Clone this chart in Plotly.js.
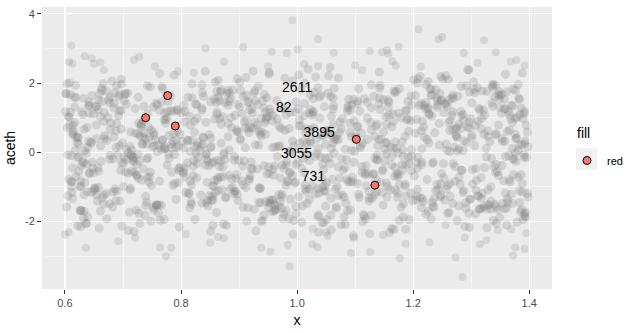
<!DOCTYPE html>
<html>
<head>
<meta charset="utf-8">
<script src="https://cdn.plot.ly/plotly-3.0.1.min.js"></script>
<style>html,body{margin:0;padding:0;background:#fff;}#plot{width:637px;height:333px;}</style>
</head>
<body>
<div id="plot"></div>
<script>
// background cloud, batch 1 (estimated)
const bgX = [
0.623,1.174,0.881,1.342,0.715,1.053,0.934,1.287,0.662,1.128,0.794,1.391,0.983,0.741,1.216,0.857,1.031,0.608,1.314,0.902,
1.095,0.684,1.257,0.823,1.372,0.961,0.736,1.148,0.872,1.014,0.645,1.226,0.778,1.335,0.927,1.071,0.693,1.182,0.816,1.364,
0.953,1.273,0.637,1.104,0.845,1.301,0.752,1.026,1.193,0.671,0.894,1.383,0.724,1.157,0.975,1.245,0.806,1.062,0.654,1.326,
0.867,1.117,0.703,1.354,0.992,1.208,0.763,1.043,0.604,1.296,0.915,1.163,0.832,1.398,0.747,1.086,0.946,1.234,0.668,1.137,
1.262,0.786,1.004,0.627,1.196,0.874,1.337,0.695,1.057,0.923,1.376,0.813,1.145,0.634,1.283,0.968,0.712,1.221,0.853,1.036,
0.731,1.318,0.905,1.077,0.646,1.253,0.838,1.169,0.988,0.759,1.387,0.617,1.112,0.941,1.264,0.802,1.048,0.685,1.345,0.896,
1.183,0.657,1.021,0.869,1.307,0.726,1.132,0.958,1.379,0.791,1.068,0.612,1.239,0.885,1.154,0.743,0.997,1.291,0.678,1.083,
0.825,1.369,0.936,1.202,0.663,1.016,0.774,1.328,1.109,0.851,1.247,0.638,0.971,1.175,0.718,1.394,0.909,1.058,0.797,1.276,
0.701,1.141,0.862,1.311,0.979,0.628,1.226,1.087,0.766,1.357,0.918,1.039,0.689,1.186,0.844,1.268,0.952,0.733,1.123,1.384,
0.613,1.236,0.807,1.098,0.944,1.349,0.757,1.008,1.171,0.651,1.297,0.873,1.064,0.721,1.212,0.986,0.829,1.331,0.674,1.153,
1.044,0.782,1.388,0.931,0.642,1.189,0.861,1.274,0.709,1.121,0.996,0.835,1.363,0.602,1.071,0.913,1.248,0.768,1.142,0.887,
1.323,0.696,1.011,1.205,0.819,1.359,0.633,0.964,1.092,0.749,1.286,0.898,1.168,0.727,1.038,0.658,1.252,0.943,1.397,0.801,
0.876,1.191,0.739,1.047,1.309,0.619,0.927,1.161,0.784,1.373,1.002,0.853,1.218,0.691,1.116,0.962,0.812,1.281,1.059,0.648,
1.353,0.921,0.667,1.134,0.838,1.242,1.073,0.753,1.392,0.609,0.981,1.197,0.864,1.029,0.715,1.318,0.937,1.102,0.779,1.259,
0.686,1.052,1.292,0.798,1.161,0.907,0.631,1.367,0.849,1.222,0.973,0.734,1.118,1.341,0.658,1.006,0.892,1.187,0.761,1.033,
1.279,0.817,1.099,0.943,0.704,1.382,1.147,0.622,0.998,1.231,0.857,1.306,0.742,1.067,0.916,1.197,0.677,1.356,0.829,1.124,
0.953,1.347,0.726,1.183,0.606,1.041,0.879,1.263,0.791,1.106,1.371,0.664,0.932,1.215,0.818,1.087,0.697,1.329,1.014,0.868,
1.151,0.641,1.299,0.911,1.064,0.772,1.385,0.839,1.206,0.987,0.616,1.137,0.754,1.272,0.901,1.049,1.343,0.683,1.176,0.806,
0.729,1.239,0.965,1.119,0.654,1.315,0.883,1.023,0.795,1.362,1.081,0.708,1.192,0.946,0.836,1.288,0.624,1.158,0.977,1.398,
1.013,0.863,1.227,0.671,1.349,0.921,1.105,0.766,1.268,0.611,1.042,0.958,1.337,0.742,1.166,0.889,1.219,0.647,1.074,0.815,
1.304,0.698,1.143,0.994,0.786,1.256,0.637,1.091,0.872,1.381,0.929,0.714,1.208,1.051,0.823,1.327,0.666,1.172,0.952,1.113,
0.843,1.366,0.605,1.027,1.284,0.759,1.149,0.907,1.353,0.688,1.078,0.856,1.241,0.628,1.003,1.391,0.775,1.196,0.934,1.061,
0.721,1.214,0.973,1.322,0.851,1.098,0.652,1.267,0.804,1.181,1.037,0.694,1.374,0.919,1.129,0.767,1.302,0.618,1.046,0.881,
1.388,0.949,1.163,0.735,1.017,1.277,0.827,1.113,0.643,1.346,0.899,1.233,0.706,1.069,0.968,1.311,0.784,1.154,0.633,1.224,
0.912,1.083,0.672,1.296,0.836,1.187,0.993,0.748,1.359,1.125,0.603,1.008,1.248,0.878,1.336,0.719,1.057,0.941,1.201,0.797,
1.139,0.627,1.028,0.866,1.317,0.739,1.179,0.959,1.094,0.682,1.372,0.846,1.261,1.016,0.773,1.168,0.905,1.342,0.656,1.282,
0.988,0.811,1.253,0.661,1.136,1.395,0.928,0.712,1.049,1.308,0.869,1.107,0.615,1.224,0.958,0.757,1.377,1.034,0.836,1.186,
0.678,1.269,1.045,0.897,1.357,0.746,1.151,0.639,1.213,0.982,0.823,1.329,1.062,0.704,1.176,0.917,1.291,0.862,1.011,0.731,
1.247,0.924,0.613,1.369,1.088,0.791,1.204,0.951,0.668,1.139,1.315,0.854,1.023,0.727,1.383,0.974,1.121,0.808,1.258,0.642,
0.901,1.193,0.763,1.059,1.338,0.636,0.979,1.231,0.842,1.097,0.697,1.361,0.933,1.159,0.788,1.276,1.019,0.659,1.207,0.873
];
const bgY = [
0.42,-1.17,1.36,-0.58,0.07,1.71,-1.45,0.93,-0.26,-1.82,0.61,1.12,-0.83,0.24,-1.34,1.54,-0.11,0.78,-1.63,0.35,
-0.72,1.28,-1.06,0.16,1.83,-0.39,0.55,-1.52,1.03,-0.94,0.29,-1.71,1.47,-0.18,0.87,-1.25,1.62,-0.51,0.02,1.19,
-1.38,0.68,-0.03,1.41,-0.87,0.49,-1.59,1.08,-0.32,1.77,-1.13,0.21,-0.66,1.31,-1.91,0.83,-0.45,1.57,-1.22,0.12,
0.97,-0.61,1.68,-1.48,0.33,-0.14,1.22,-1.01,0.71,-1.76,1.44,-0.36,0.06,-1.29,1.89,-0.79,0.52,-1.57,1.15,-0.22,
1.52,-0.95,0.26,-1.68,0.91,-0.07,1.33,-1.41,0.63,-0.49,1.79,-1.19,0.38,-0.88,1.06,-1.55,0.17,1.26,-0.31,-1.86,
0.74,-1.33,1.11,-0.19,1.64,-0.74,0.44,-1.09,0.01,1.37,-1.66,0.86,-0.41,1.49,-1.27,0.31,-0.97,1.72,-0.56,0.59,
-1.49,1.24,-0.24,0.81,-1.78,1.59,-0.63,0.14,1.02,-1.36,0.47,-0.85,1.81,-1.05,0.28,-0.16,1.17,-1.61,0.66,-0.44,
1.39,-1.21,0.53,-0.68,1.85,-0.09,0.94,-1.53,0.19,1.46,-0.91,0.72,-1.42,1.13,-0.27,-1.73,0.88,1.61,-0.53,0.04,
-0.99,0.37,1.76,-1.26,0.64,-0.38,1.29,-1.69,0.09,1.53,-0.76,0.99,-1.12,0.46,-0.05,1.66,-1.47,0.23,-0.62,1.09,
0.56,-1.58,1.18,-0.29,0.85,-1.89,1.42,-0.47,0.11,-1.03,1.74,-0.71,0.39,1.27,-1.31,0.69,-0.15,-1.51,1.01,0.27,
-0.34,1.63,-1.15,0.79,-0.59,1.21,-1.74,0.48,-0.02,1.45,-0.89,0.18,-1.44,1.69,-0.42,0.92,-1.24,0.36,1.86,-0.77,
1.07,-0.52,0.32,-1.37,1.58,-0.12,0.67,-1.64,1.23,-0.96,0.05,1.38,-0.69,0.84,-1.18,1.51,-0.33,-1.81,0.58,1.14,
-0.21,0.96,-1.54,1.32,-0.81,0.43,1.78,-1.08,0.14,-0.64,1.26,-1.39,0.73,-0.08,1.55,-1.67,0.34,-0.93,1.04,-0.46,
1.67,-0.28,0.89,-1.23,0.22,1.48,-0.75,0.57,-1.84,1.16,-0.37,0.08,-1.11,1.73,-0.54,0.98,-1.46,0.41,-0.17,1.34,
-1.06,0.63,1.92,-0.44,0.15,-1.59,1.09,-0.86,0.51,1.44,-1.28,0.25,-0.65,1.61,-1.02,0.77,-0.23,1.21,-1.75,0.38,
0.82,-1.43,0.03,1.28,-0.57,1.57,-1.16,0.45,-0.35,1.82,-0.98,0.19,1.11,-1.62,0.67,-0.11,1.43,-0.82,0.29,-1.32,
1.25,-0.67,0.54,-1.87,1.03,-0.13,1.69,-0.91,0.36,-1.21,0.86,1.47,-0.48,0.1,-1.5,1.19,-0.31,0.62,-1.06,1.75,
-0.25,1.36,-1.35,0.71,-0.03,1.13,-1.72,0.42,0.95,-0.6,1.59,-1.14,0.2,-0.84,1.31,-1.56,0.53,-0.19,1.84,-0.7,
0.47,-1.1,1.5,-0.39,0.79,-1.65,0.07,1.24,-0.88,0.6,-1.3,1.71,-0.14,0.93,-1.47,0.33,-0.55,1.08,-1.79,0.16,
1.41,-0.8,0.27,-1.19,1.63,-0.46,0.74,-1.53,1.17,-0.1,0.5,-1.37,1.88,-0.73,0.12,-1.02,1.35,-0.29,0.88,-1.6,
2.04,-2.13,1.93,-1.97,0.31,2.21,-2.05,0.84,-0.43,1.96,-2.27,-0.09,2.12,-1.94,0.58,-2.18,1.99,-0.62,2.31,-2.01,
-0.18,0.64,-1.26,1.14,-0.52,0.02,1.52,-0.94,0.39,-1.4,0.97,-0.27,1.3,-1.69,0.76,-0.07,1.65,-1.18,0.21,-0.78,
0.55,-0.36,1.27,-1.57,0.13,0.91,-1.04,1.58,-0.6,0.3,-1.81,1.2,-0.2,0.72,-1.33,1.46,-0.5,0.06,-1.12,1.78,
-0.9,1.03,-0.12,0.44,-1.48,1.62,-0.74,0.26,1.12,-1.66,0.59,-0.32,1.39,-1.0,0.17,1.87,-0.57,0.81,-1.23,0.37,
2.16,-2.08,-1.92,2.38,1.95,-2.22,2.07,-1.99,2.26,-2.35,1.98,-2.02,2.19,-2.11,1.94,-2.29,2.45,-1.96,2.09,-2.16,
0.19,-0.99,1.55,-0.41,0.68,-1.27,1.0,-0.66,0.45,-1.58,1.34,-0.24,0.86,-1.13,0.1,1.72,-0.83,0.52,-1.41,1.18,
-0.58,0.35,1.15,-1.7,0.75,-0.15,1.49,-1.09,0.23,-0.47,1.81,-1.31,0.62,-0.79,1.06,-1.52,0.4,-0.04,1.28,-0.92,
1.6,-0.33,0.47,-1.21,1.25,-0.7,0.09,-1.86,1.41,-0.26,0.9,-1.08,0.27,1.7,-0.64,0.57,-1.45,1.1,-0.17,0.8,
-1.29,0.7,-0.45,1.35,-0.86,0.14,1.64,-1.6,0.48,-0.22,1.22,-0.97,0.33,-1.76,1.53,-0.37,0.99,-1.16,0.06,1.44,
2.02,-1.95,2.28,-2.24,1.97,-2.06,2.14,-1.93,2.34,-2.41,2.11,-2.1,1.91,-2.32,2.23,-1.98,2.41,-2.19,2.0,-2.07
];
// background cloud, batch 2 (estimated)
const bgX2 = [
1.207,0.653,0.994,1.318,0.771,1.085,0.619,1.243,0.902,1.366,0.837,1.021,0.688,1.154,0.946,1.279,0.732,1.112,0.861,1.397,
0.645,1.176,0.913,1.334,0.798,1.049,0.607,1.262,0.969,0.724,1.128,0.883,1.371,0.675,1.003,1.219,0.816,1.305,0.937,1.094,
1.352,0.758,1.067,0.631,1.191,0.892,1.283,0.709,1.036,0.954,1.387,0.626,1.143,0.848,1.237,0.981,0.692,1.326,0.773,1.058,
0.919,1.255,0.667,1.101,0.826,1.348,0.745,1.017,1.179,0.601,0.958,1.294,0.871,1.132,0.717,1.376,0.998,0.639,1.211,0.804,
1.073,0.855,1.313,0.702,1.166,0.926,1.393,0.659,1.044,0.789,1.228,0.974,0.614,1.339,0.886,1.119,0.751,1.268,0.932,1.001,
0.683,1.347,0.842,1.089,0.723,1.257,0.966,1.381,0.617,1.138,0.898,1.024,0.768,1.302,0.851,1.187,0.649,1.079,0.987,1.232,
1.296,0.741,1.158,0.877,1.037,0.606,1.361,0.912,1.204,0.783,1.068,0.641,1.323,0.957,1.116,0.827,1.249,0.694,1.012,1.384,
0.811,1.021,0.633,1.276,0.943,1.147,0.706,1.359,0.867,1.092,0.749,1.225,0.988,0.624,1.173,0.903,1.308,0.779,1.055,0.661,
1.241,0.896,1.332,0.677,1.108,0.822,1.029,0.738,1.389,0.951,1.196,0.612,1.271,0.858,1.063,0.714,1.149,0.973,0.836,1.343,
0.763,1.134,0.602,1.287,0.928,1.046,0.805,1.217,0.689,1.372,0.981,0.753,1.121,0.864,1.317,0.634,1.078,0.917,1.259,0.697,
1.109,0.877,1.264,0.649,1.006,1.341,0.787,1.183,0.922,0.713,1.395,1.057,0.839,1.222,0.621,0.954,1.154,0.746,1.297,0.883,
0.998,1.368,0.729,1.141,0.863,1.279,0.609,1.032,1.214,0.796,0.947,1.328,0.672,1.097,0.818,1.245,0.966,1.386,0.741,1.163,
0.654,1.207,0.896,1.353,0.777,1.081,0.938,1.263,0.627,1.171,0.854,1.015,0.705,1.336,0.992,1.127,0.762,1.286,0.843,1.049,
1.378,0.812,1.156,0.661,1.233,0.979,0.719,1.307,0.891,1.064,0.637,1.192,0.957,0.828,1.391,0.685,1.104,0.869,1.254,0.923,
0.747,1.292,0.613,1.022,1.174,0.881,1.361,0.794,1.136,0.668,1.248,0.936,1.083,0.735,1.319,0.849,0.972,1.206,0.629,1.114,
1.189,0.906,1.349,0.758,1.047,0.678,1.269,0.984,0.817,1.383,1.153,0.642,0.926,1.236,0.771,1.094,0.868,1.322,0.603,1.011,
0.834,1.104,0.719,1.275,0.961,1.165,0.657,1.354,0.889,1.027,0.753,1.199,0.918,1.377,0.806,1.066,0.688,1.231,0.948,1.301,
1.016,1.259,0.776,0.632,1.142,0.859,1.392,0.971,1.088,0.726,1.216,0.843,1.329,0.664,1.051,0.911,1.173,0.788,1.283,0.614,
1.365,0.697,1.124,0.939,0.821,1.246,0.611,1.071,0.893,1.334,0.761,1.181,0.998,0.646,1.297,0.874,1.038,0.732,1.358,0.961,
0.702,1.148,0.852,1.313,1.004,0.677,1.229,0.915,1.376,0.789,1.087,0.624,1.268,0.946,0.815,1.131,0.739,1.394,1.062,0.868,
1.222,0.632,1.032,0.881,1.343,0.767,1.176,0.952,0.701,1.289,0.859,1.118,0.618,1.037,1.251,0.796,1.389,0.924,1.076,0.689,
0.943,1.312,0.814,1.198,0.658,1.059,0.907,1.362,0.744,1.134,0.988,0.611,1.274,0.846,1.167,0.723,1.023,1.334,0.876,1.215,
0.679,1.084,1.381,0.793,1.241,0.934,0.626,1.157,0.863,1.299,1.013,0.736,1.206,0.971,0.821,1.347,0.652,1.111,0.895,1.267,
1.036,0.756,1.327,0.619,1.182,0.958,1.392,0.828,1.062,0.711,1.256,0.892,1.128,0.639,1.349,0.977,0.784,1.214,0.938,1.096,
0.864,1.379,0.697,1.163,1.003,0.771,1.283,0.622,1.071,0.913,1.226,0.851,1.342,0.729,1.142,0.986,0.608,1.297,0.819,1.043,
1.169,0.917,1.301,0.664,1.091,0.779,1.366,1.009,0.843,1.235,0.694,1.124,0.963,1.386,0.752,1.058,0.887,1.272,0.632,1.186,
0.726,1.232,0.899,1.058,1.357,0.641,1.144,0.805,1.306,0.969,0.684,1.197,0.858,1.371,1.028,0.717,1.263,0.934,1.106,0.776,
1.321,0.846,1.103,0.605,1.249,0.981,0.768,1.392,0.886,1.169,0.713,1.041,1.286,0.828,0.952,1.358,0.667,1.138,0.909,1.227,
0.622,1.076,1.343,0.862,1.188,0.735,1.021,0.948,1.279,0.699,1.155,0.883,1.376,0.816,1.092,0.654,1.242,0.997,0.771,1.319,
1.054,0.709,1.261,0.938,1.128,0.627,1.388,0.855,1.013,0.764,1.212,0.993,0.681,1.338,0.897,1.167,0.742,1.046,1.294,0.824
];
const bgY2 = [
-0.47,1.33,0.18,-1.62,0.94,-0.21,1.58,-1.07,0.39,-0.79,1.73,-1.36,0.62,-0.04,1.16,-1.55,0.81,-0.58,1.44,-1.19,
0.27,-0.92,1.65,-1.41,0.53,-0.17,1.02,-1.74,0.76,-0.35,1.29,-0.66,0.11,1.52,-1.28,0.44,-0.83,1.81,-1.03,0.06,
1.12,-1.52,0.36,-0.27,1.47,-1.13,0.69,-0.61,1.87,-1.46,0.21,-0.99,1.24,-0.39,0.57,-1.69,1.06,-0.13,0.84,-1.32,
-0.68,1.41,-1.24,0.47,-0.03,1.76,-0.87,0.28,-1.59,1.18,-0.49,0.73,-1.08,1.62,-0.23,0.98,-1.77,0.14,1.35,-0.56,
0.58,-1.37,1.27,-0.14,0.89,-1.65,0.33,1.69,-0.76,-0.06,1.09,-1.22,0.51,-0.41,1.55,-0.97,0.16,-1.48,1.38,-0.29,
-1.14,0.79,-0.37,1.53,-1.67,0.24,0.96,-0.71,1.31,-0.08,-1.39,0.66,1.84,-0.92,0.41,-1.26,1.11,-0.52,0.03,1.66,
0.87,-0.19,1.45,-1.31,0.12,-0.78,1.74,-1.02,0.55,1.21,-1.57,0.32,-0.44,0.91,-1.84,1.38,-0.61,0.19,1.06,-1.45,
-0.31,1.14,-1.7,0.43,1.68,-0.54,0.08,-1.18,1.49,-0.86,0.64,1.26,-1.35,0.23,-0.69,1.79,-1.09,0.49,-0.16,1.03,
1.57,-0.64,0.31,-1.49,1.19,-0.24,0.71,-1.82,0.97,-0.42,1.63,-1.16,0.15,-0.81,1.34,-0.07,0.59,-1.61,1.22,-0.35,
-0.83,0.46,1.7,-1.1,0.22,-0.5,1.36,-1.43,0.83,-0.18,1.08,-1.66,0.37,1.59,-0.73,0.04,-1.23,1.47,-0.96,0.67,
0.13,-1.29,0.92,-0.6,1.82,-1.5,0.54,-0.11,1.25,-1.04,0.78,-0.33,1.61,-1.78,0.29,1.15,-0.89,0.45,-1.36,1.71,
-1.56,0.97,-0.26,1.4,-0.73,0.1,1.67,-1.21,0.62,-0.46,1.0,-1.63,0.34,1.53,-0.94,0.21,-0.12,1.28,-1.44,0.74,
1.32,-1.07,0.65,-0.38,1.18,-1.86,0.47,0.02,-0.82,1.75,-1.27,0.56,-0.21,1.43,-0.67,0.86,-1.52,1.09,-0.05,-1.13,
0.41,1.59,-0.99,0.18,-1.45,1.26,-0.58,0.77,-1.2,1.85,-0.34,0.61,-1.72,0.99,-0.15,1.42,-0.9,0.26,-1.38,1.13,
-0.57,0.28,-1.34,1.66,-0.02,0.83,-1.61,1.2,-0.79,0.4,1.5,-1.05,0.09,-0.48,1.77,-1.25,0.69,-0.3,1.17,-1.8,
0.95,-0.4,1.29,-1.53,0.6,-0.09,1.55,-0.85,0.35,-1.11,1.03,-0.62,1.72,-1.33,0.17,1.37,-0.71,0.52,-1.58,0.07,
-1.23,1.48,-0.16,0.72,-1.69,1.11,-0.45,0.31,1.8,-0.96,0.49,-1.4,1.23,-0.27,0.88,-1.06,0.14,1.64,-0.63,0.42,
0.68,-1.76,1.01,-0.31,1.57,-1.17,0.25,-0.74,1.35,-0.06,0.9,-1.46,0.46,1.78,-0.88,0.13,-1.3,1.19,-0.52,0.79,
-0.1,1.21,-1.41,0.58,-0.68,1.7,-1.0,0.37,1.07,-1.64,0.21,-0.36,1.46,-1.15,0.7,-0.01,1.6,-0.8,0.32,-1.51,
1.49,-0.49,0.16,-1.27,0.93,-0.2,1.83,-1.6,0.52,-0.9,1.28,-0.12,0.66,-1.42,1.04,-0.63,0.38,-1.88,1.25,-0.26,
1.96,-1.91,2.18,0.45,-2.05,1.9,-1.97,2.26,-0.31,-2.14,2.03,-1.93,1.94,-2.31,2.11,0.18,-1.95,2.35,-2.09,1.92,
-0.39,0.9,-1.18,1.37,-0.55,0.11,1.61,-1.35,0.73,-0.17,1.15,-0.84,0.48,-1.55,1.78,-0.66,0.26,-1.0,1.44,-0.28,
0.85,-1.47,0.05,1.24,-0.93,0.62,-1.68,1.51,-0.22,0.97,-0.59,1.33,-1.26,0.19,-0.4,1.68,-1.09,0.55,-0.76,1.07,
-1.05,0.36,1.76,-0.7,0.07,-1.38,1.19,-0.32,0.8,-1.73,1.39,-0.11,0.64,-1.14,1.54,-0.47,0.23,-1.6,0.99,-0.85,
2.08,-2.02,1.97,-2.2,2.24,-1.94,1.91,-2.12,2.15,-1.99,2.05,-2.28,1.93,-2.06,2.32,-1.92,2.01,-2.17,1.98,-2.04,
0.3,-0.81,1.43,-1.32,0.57,-0.05,1.09,-1.55,0.87,-0.29,1.67,-1.12,0.16,-0.65,1.3,-1.81,0.71,-0.41,1.56,-0.98,
-0.74,1.05,-0.23,0.5,-1.63,1.34,-0.88,0.12,1.72,-1.22,0.44,-0.53,0.96,-1.48,1.18,-0.14,0.63,-1.03,1.84,-0.37,
1.22,-1.39,0.74,-0.07,1.51,-0.95,0.34,-1.77,1.0,-0.44,0.59,1.65,-1.16,0.2,-0.61,1.27,-1.5,0.81,-0.25,1.11,
-0.15,0.68,-1.58,1.16,-0.35,0.93,-1.07,1.58,-0.72,0.27,-1.29,1.47,-0.02,0.79,-1.66,0.4,1.36,-0.86,0.1,-1.19,
2.21,-2.26,2.1,-2.0,1.95,-2.15,2.29,-2.1,2.0,-1.96,2.19,-2.37,2.06,-1.97,2.13,-2.23,1.92,-2.03,2.39,-1.94
];
// sparse outlying points
const outX = [0.992,1.036,1.209,1.244,1.250,1.322,0.842,0.907,0.956,0.982,1.001,1.063,1.125,1.146,1.155,1.157,1.175,1.287,1.342,0.874,0.95,1.012,1.036,1.1,1.112,1.164,1.17,1.213,1.311,1.368,1.378,1.392,
0.611,0.607,0.613,0.634,0.646,0.65,0.661,0.719,0.728,0.755,0.667,0.795,0.822,
0.636,0.692,0.721,0.764,0.783,0.774,0.85,0.938,0.954,0.987,0.984,1.026,0.6,0.606,0.808,0.864,0.874,
1.035,1.093,1.126,1.177,1.187,1.228,1.273,1.285,1.289,1.315,1.326,1.372,1.376,1.392,1.346,1.369,1.395,1.098,1.05,1.053,1.148,1.256,1.027];
const outY = [3.82,3.27,3.56,3.27,3.33,3.24,3.01,3.04,2.91,2.87,2.97,2.88,2.92,2.9,2.96,2.85,3.05,2.88,2.89,2.62,2.49,2.55,2.49,2.52,2.37,2.63,2.51,2.47,2.58,2.62,2.67,2.51,
3.09,2.61,2.57,2.78,2.72,2.56,2.6,2.67,2.76,2.49,2.38,2.34,2.3,
-2.76,-2.57,-2.47,-2.75,-2.76,-3.0,-2.61,-2.76,-2.87,-3.29,-2.67,-2.66,-2.38,-2.31,-2.36,-2.45,-2.48,
-2.74,-2.91,-2.88,-3.06,-2.64,-2.6,-3.03,-3.6,-2.46,-2.66,-2.54,-2.98,-2.75,-2.79,-2.25,-2.22,-2.34,-2.47,-2.32,-2.41,-2.39,-2.1,-2.21];
// highlighted points
const redX = [0.739,0.777,0.790,1.102,1.134];
const redY = [1.00,1.64,0.76,0.375,-0.95];
// labels
const labelText = ["2611","82","3895","3055","731"];
const labelX = [1.000,0.977,1.038,0.999,1.028];
const labelY = [1.85,1.27,0.53,-0.05,-0.72];
const xTicks = [0.6,0.8,1.0,1.2,1.4];
const xTickText = ["0.6","0.8","1.0","1.2","1.4"];
const yTicks = [-2,0,2,4];
const yTickText = ["-2","0","2","4"];

const FONT = "Liberation Sans, Arial, Helvetica, sans-serif";
const greyMarker = {color:"rgba(127,127,127,0.24)", size:9, line:{width:0}};
const traces = [
  {type:"scatter", mode:"markers", x:bgX, y:bgY, marker:greyMarker, showlegend:false, hoverinfo:"skip"},
  {type:"scatter", mode:"markers", x:bgX2, y:bgY2, marker:greyMarker, showlegend:false, hoverinfo:"skip"},
  {type:"scatter", mode:"markers", x:outX, y:outY, marker:{color:"rgba(127,127,127,0.2)", size:8, line:{width:0}}, showlegend:false, hoverinfo:"skip"},
  {type:"scatter", mode:"markers", x:redX, y:redY, name:"red",
   marker:{color:"#F8766D", size:8, line:{color:"#000", width:1}}, showlegend:true},
  {type:"scatter", mode:"text", x:labelX, y:labelY, text:labelText,
   textfont:{family:FONT, size:14, color:"#000"}, textposition:"middle center", showlegend:false, hoverinfo:"skip"}
];
const W=510, H=282;
const layout = {
  width:637, height:333,
  margin:{l:42, r:85, t:7, b:44},
  paper_bgcolor:"#fff", plot_bgcolor:"#EBEBEB",
  font:{family:FONT, color:"#4D4D4D"},
  showlegend:true,
  xaxis:{range:[0.5604,1.4392], tickvals:xTicks, ticktext:xTickText, ticks:"outside", ticklen:4, tickcolor:"#333", tickwidth:1,
    tickfont:{size:11, color:"#4D4D4D"}, showgrid:true, gridcolor:"#fff", gridwidth:1.1, zeroline:false, showline:false,
    minor:{tickvals:[0.7,0.9,1.1,1.3], showgrid:true, gridcolor:"#fff", gridwidth:0.5, ticks:""},
    title:{text:"x", font:{size:14, color:"#000"}, standoff:6}},
  yaxis:{range:[-3.95,4.2], tickvals:yTicks, ticktext:yTickText, ticks:"outside", ticklen:4, tickcolor:"#333", tickwidth:1,
    tickfont:{size:11, color:"#4D4D4D"}, showgrid:true, gridcolor:"#fff", gridwidth:1.1, zeroline:false, showline:false,
    minor:{tickvals:[-3,-1,1,3], showgrid:true, gridcolor:"#fff", gridwidth:0.5, ticks:""},
    title:{text:"aceth", font:{size:14, color:"#000"}, standoff:6}},
  legend:{x:(567-42)/W, xanchor:"left", y:(289-146)/H, yanchor:"top", bgcolor:"rgba(0,0,0,0)",
    font:{size:11, color:"#000"}, itemsizing:"trace"},
  shapes:[{type:"rect", xref:"paper", yref:"paper", x0:(576-42)/W, x1:(597.3-42)/W, y0:(289-170)/H, y1:(289-148.3)/H,
    fillcolor:"#F2F2F2", line:{width:0}, layer:"below"}],
  annotations:[{xref:"paper", yref:"paper", x:(575-42)/W, y:(289-133)/H, xanchor:"left", yanchor:"middle",
    text:"fill", showarrow:false, font:{size:14, color:"#000"}}]
};
Plotly.newPlot("plot", traces, layout, {displayModeBar:false, staticPlot:true});
</script>
</body>
</html>
